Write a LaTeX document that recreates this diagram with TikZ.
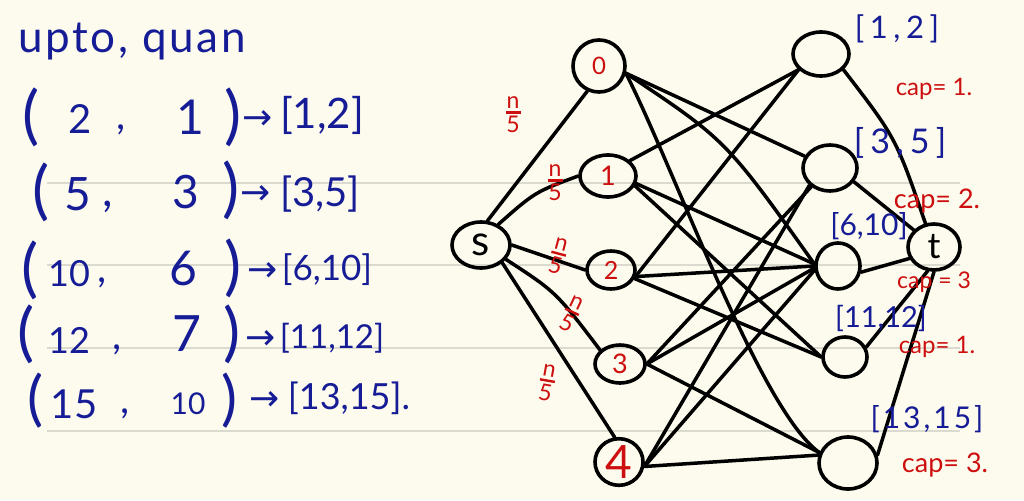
\documentclass[tikz,border=0pt]{standalone}
\usepackage{fontspec}
\setmainfont{Lato}
\newfontfamily\arrowfont{DejaVu Sans}
\usetikzlibrary{shapes.geometric}
\definecolor{paper}{RGB}{252,251,237}
\definecolor{rulegrey}{RGB}{218,218,206}
\definecolor{hblue}{RGB}{22,28,150}
\definecolor{hred}{RGB}{205,15,15}
\newcommand\fsz[1]{\fontsize{#1}{#1}\selectfont}
\newcommand\nfive{\vbox{\offinterlineskip\halign{\hfil##\hfil\cr n\cr\noalign{\kern2.5pt}\rule{15pt}{2.4pt}\cr\noalign{\kern2.5pt}5\cr}}}
\begin{document}
\begin{tikzpicture}[x=1pt,y=-1pt,
  vtx/.style={draw=black, ellipse, line width=3.6pt, inner sep=0pt},
  wire/.style={line width=3.5pt, line cap=round, black},
  ruling/.style={rulegrey, line width=1.2pt},
  bl/.style={text=hblue, inner sep=0pt},
  rd/.style={text=hred, inner sep=0pt},
  arr/.style={text=hblue, inner sep=0pt, font=\arrowfont\fsz{36}},
  frac/.style={text=hred, inner sep=0pt, font=\fsz{23}},
  wide/.style={font=\fsz{#1}\addfontfeature{LetterSpace=18}},
]
\fill[paper] (0,0) rectangle (1024,500);
\useasboundingbox (0,0) rectangle (1024,500);
% ruled lines
\draw[ruling] (47,183) -- (960,183);
\draw[ruling] (47,265) -- (960,265);
\draw[ruling] (47,348) -- (960,348);
\draw[ruling] (47,431) -- (960,431);

% left text
\node[bl, anchor=base west, font=\fsz{44}\addfontfeature{LetterSpace=6}] (title) at (18,53) {upto, quan};
% row 1
\node[bl, font=\fsz{64}] (po1) at (31,117) {(};
\node[bl, font=\fsz{40}] (a1) at (80,119) {2};
\node[bl, font=\fsz{40}] (c1) at (121,130) {,};
\node[bl, font=\fsz{48}] (b1) at (190,117) {1};
\node[bl, font=\fsz{64}] (pc1) at (233,117) {)};
\node[arr] (ar1) at (258,120) {→};
\node[bl, font=\fsz{42}] (iv1) at (322,115) {[1,2]};
% row 2
\node[bl, font=\fsz{64}] (po2) at (41,192) {(};
\node[bl, font=\fsz{46}] (a2) at (78,194) {5};
\node[bl, font=\fsz{46}] (c2) at (108,207) {,};
\node[bl, font=\fsz{46}] (b2) at (186,192) {3};
\node[bl, font=\fsz{64}] (pc2) at (231,190) {)};
\node[arr] (ar2) at (256,195) {→};
\node[bl, font=\fsz{40}] (iv2) at (320,194) {[3,5]};
% row 3
\node[bl, font=\fsz{64}] (po3) at (30,270) {(};
\node[bl, font=\fsz{36}] (a3) at (69,274) {10};
\node[bl, font=\fsz{40}] (c3) at (102,283) {,};
\node[bl, font=\fsz{48}] (b3) at (183,268) {6};
\node[bl, font=\fsz{64}] (pc3) at (233,268) {)};
\node[arr] (ar3) at (263,272) {→};
\node[bl, font=\fsz{35}] (iv3) at (327,270) {[6,10]};
% row 4
\node[bl, font=\fsz{64}] (po4) at (26,334) {(};
\node[bl, font=\fsz{36}] (a4) at (69,340) {12};
\node[bl, font=\fsz{40}] (c4) at (117,350) {,};
\node[bl, font=\fsz{50}] (b4) at (187,334) {7};
\node[bl, font=\fsz{64}] (pc4) at (232,334) {)};
\node[arr] (ar4) at (261,340) {→};
\node[bl, font=\fsz{33}] (iv4) at (332,338) {[11,12]};
% row 5
\node[bl, font=\fsz{60}] (po5) at (36,401) {(};
\node[bl, font=\fsz{40}] (a5) at (74,404) {15};
\node[bl, font=\fsz{40}] (c5) at (125,414) {,};
\node[bl, font=\fsz{30}] (b5) at (188,404) {10};
\node[bl, font=\fsz{60}] (pc5) at (230,401) {)};
\node[arr] (ar5) at (265,401) {→};
\node[bl, font=\fsz{36}] (iv5) at (349,398) {[13,15].};

% graph nodes
\node[vtx, minimum width=58pt, minimum height=46pt, font=\fsz{42}] (s) at (481,245) {s};
\node[vtx, minimum width=52pt, minimum height=52pt, text=hred, font=\fsz{24}] (n0) at (599,66) {0};
\node[vtx, minimum width=56pt, minimum height=42pt, text=hred, font=\fsz{27}] (n1) at (608,176) {1};
\node[vtx, minimum width=48pt, minimum height=38pt, text=hred, font=\fsz{25}] (n2) at (611,270) {2};
\node[vtx, minimum width=50pt, minimum height=38pt, text=hred, font=\fsz{27}] (n3) at (620,364) {3};
\node[vtx, minimum width=48pt, minimum height=46pt, text=hred, font=\fsz{46}] (n4) at (619,462) {4};
\node[vtx, minimum width=56pt, minimum height=44pt] (r1) at (821,54) {};
\node[vtx, minimum width=54pt, minimum height=46pt] (r2) at (830,168) {};
\node[vtx, minimum width=44pt, minimum height=46pt] (r3) at (838,266) {};
\node[vtx, minimum width=44pt, minimum height=40pt] (r4) at (845,357) {};
\node[vtx, minimum width=58pt, minimum height=52pt] (r5) at (848,463) {};
\node[vtx, minimum width=52pt, minimum height=46pt, font=\fsz{36}] (t) at (934,247) {t};

% source edges
\draw[wire] (s.75) -- (n0.-115);
\draw[wire] (s.50) .. controls (535,192) .. (n1.west);
\draw[wire] (s.east) -- (n2.180);
\draw[wire] (s.-30) .. controls (556,292) .. (n3.145);
\draw[wire] (s.-40) -- (n4.100);

% middle edges
\draw[wire] (n0.-15) -- (r2.155);
\draw[wire] (n0.-15) .. controls (726,140) .. (r3.175);
\draw[wire] (n0.-15) .. controls (675,170) and (760,410) .. (r5.160);
\draw[wire] (n1.35) -- (r1.-145);
\draw[wire] (n1.-15) -- (r3.175);
\draw[wire] (n1.-20) -- (r4.west);
\draw[wire] (n2.-15) -- (r1.-145);
\draw[wire] (n2.-15) -- (r3.180);
\draw[wire] (n2.-20) -- (r4.west);
\draw[wire] (n3.east) -- (r2.-135);
\draw[wire] (n3.east) -- (r3.185);
\draw[wire] (n3.east) -- (r5.160);
\draw[wire] (n4.-10) -- (r2.-140);
\draw[wire] (n4.-10) -- (r3.190);
\draw[wire] (n4.-10) -- (r5.165);

% sink edges
\draw[wire] (r1.-35) .. controls (896,138) .. (t.110);
\draw[wire] (r2.-30) -- (t.140);
\draw[wire] (r3.-15) -- (t.-155);
\draw[wire] (r4.25) -- (t.-105);
\draw[wire] (r5.15) -- (t.-90);

% capacity fractions
\node[frac] (f0) at (513,115) {\nfive};
\node[frac] (f1) at (555,183) {\nfive};
\node[frac, rotate=-15] (f2) at (558,256) {\nfive};
\node[frac, rotate=-25] (f3) at (571,314) {\nfive};
\node[frac, rotate=-10] (f4) at (547,383) {\nfive};

% interval labels
\node[bl, wide=31] (l1) at (897,29) {[1,2]};
\node[bl, wide=34] (l2) at (900,143) {[3,5]};
\node[bl, font=\fsz{30}] (l3) at (869,226) {[6,10]};
\node[bl, font=\fsz{29}] (l4) at (881,318) {[11,12]};
\node[bl, font=\fsz{30}\addfontfeature{LetterSpace=10}] (l5) at (927,419) {[13,15]};

% capacities
\node[rd, font=\fsz{24}] (k1) at (934,89) {cap= 1.};
\node[rd, font=\fsz{27}] (k2) at (937,201) {cap= 2.};
\node[rd, font=\fsz{23}] (k3) at (934,282) {cap = 3};
\node[rd, font=\fsz{24}] (k4) at (937,347) {cap= 1.};
\node[rd, font=\fsz{27}] (k5) at (945,465) {cap= 3.};
\end{tikzpicture}
\end{document}
